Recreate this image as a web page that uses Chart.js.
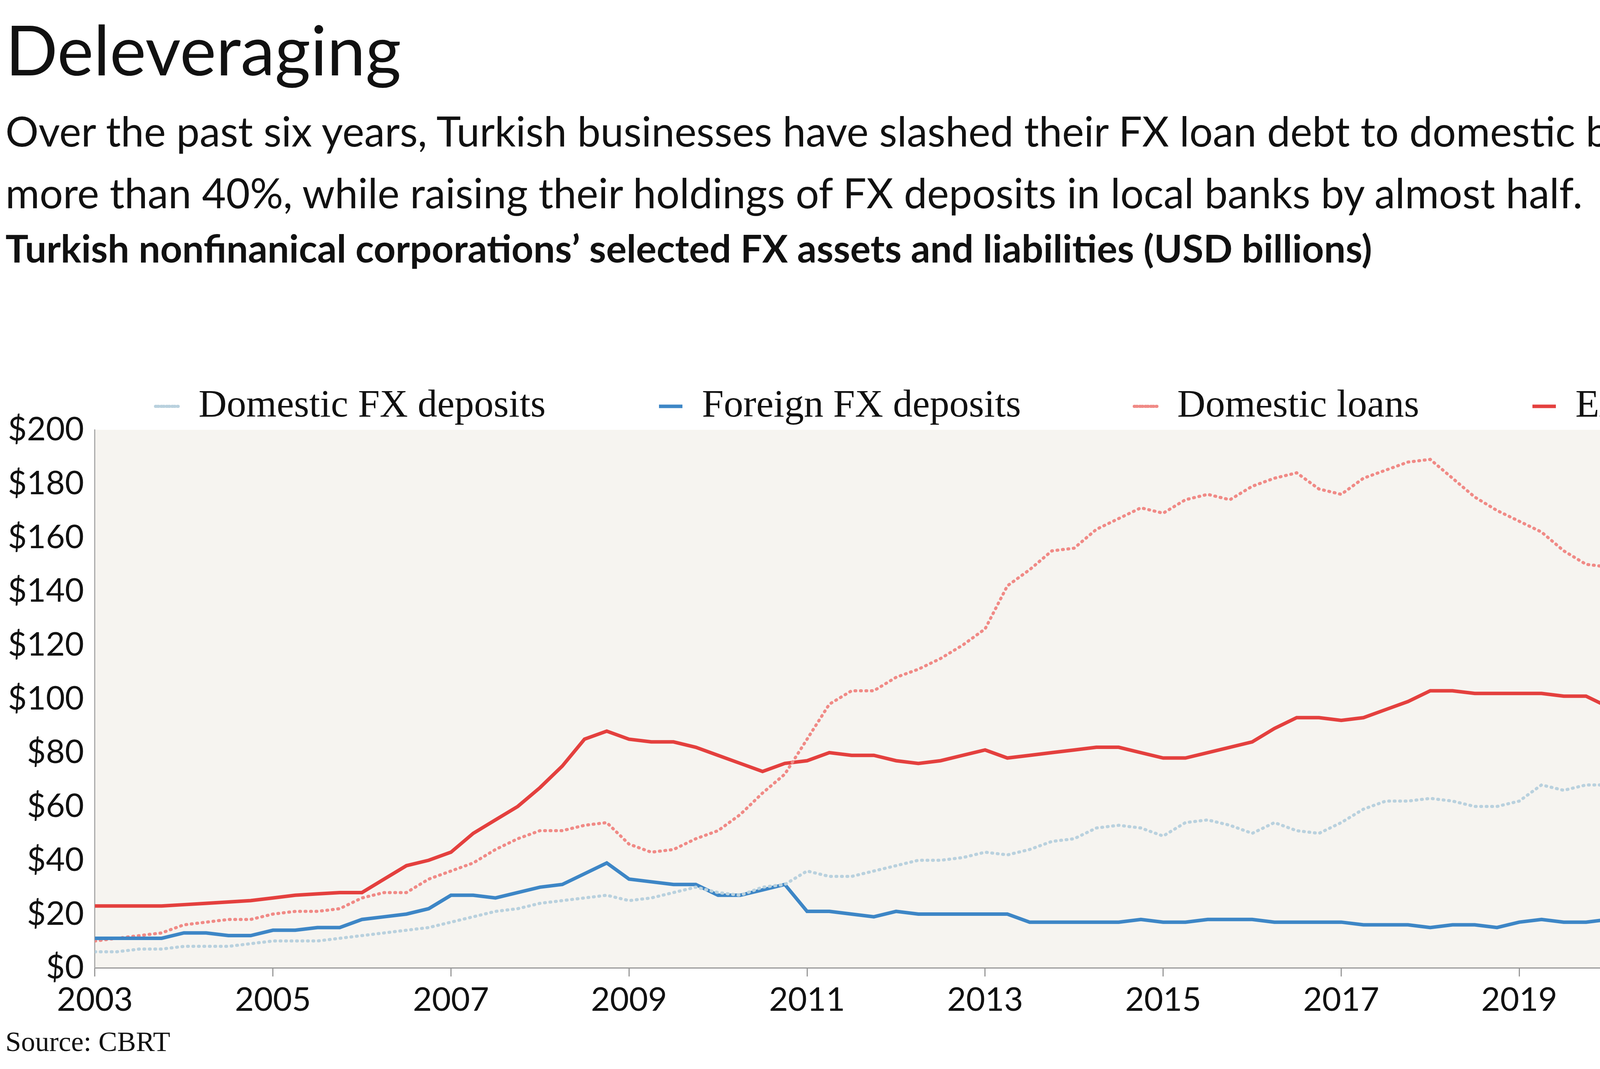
<!DOCTYPE html>
<html>
<head>
<meta charset="utf-8">
<script src="https://cdn.jsdelivr.net/npm/chart.js@4"></script>
<style>
  html, body { margin: 0; background: #fff; }
  body { width: 5006px; height: 2736px; position: relative; overflow: hidden; font-family: Lato, sans-serif; color: #111; }
  .t { position: absolute; left: 14px; white-space: nowrap; }
  #title { top: 30px; font-size: 176px; line-height: 190px; }
  #sub { top: 255px; font-size: 106px; line-height: 158px; }
  #head { top: 575px; font-size: 98px; font-weight: bold; }
  #source { top: 2625px; font-size: 72px; font-family: "Liberation Serif", serif; }
  #wrap { position: absolute; left: 0; top: 700px; width: 5006px; height: 1920px; }
  #chart { display: block; width: 5006px; height: 1920px; }
</style>
</head>
<body>
<div class="t" id="title">Deleveraging</div>
<div class="t" id="sub">Over the past six years, Turkish businesses have slashed their FX loan debt to domestic banks by<br>more than 40%, while raising their holdings of FX deposits in local banks by almost half.</div>
<div class="t" id="head">Turkish nonfinanical corporations’ selected FX assets and liabilities (USD billions)</div>
<div id="wrap"><canvas id="chart" width="5006" height="1920"></canvas></div>
<div class="t" id="source">Source: CBRT</div>
<script>
// quarterly readings, 2003 Q1 .. 2023 Q4
const startYear = 2003;
const domesticDeposits = [6,6,7,7, 8,8,8,9, 10,10,10,11, 12,13,14,15, 17,19,21,22, 24,25,26,27, 25,26,28,30, 28,27,30,31, 36,34,34,36, 38,40,40,41, 43,42,44,47, 48,52,53,52, 49,54,55,53, 50,54,51,50, 54,59,62,62, 63,62,60,60, 62,68,66,68, 68,72,77,78, 79,78,82,83, 82,89,94,97, 92,91,93,92];
const foreignDeposits = [11,11,11,11, 13,13,12,12, 14,14,15,15, 18,19,20,22, 27,27,26,28, 30,31,35,39, 33,32,31,31, 27,27,29,31, 21,21,20,19, 21,20,20,20, 20,20,17,17, 17,17,17,18, 17,17,18,18, 18,17,17,17, 17,16,16,16, 15,16,16,15, 17,18,17,17, 18,17,17,18, 18,17,18,17, 17,17,16,16, 17,16,16,16];
const domesticLoans = [10,11,12,13, 16,17,18,18, 20,21,21,22, 26,28,28,33, 36,39,44,48, 51,51,53,54, 46,43,44,48, 51,57,65,72, 85,98,103,103, 108,111,115,120, 126,142,148,155, 156,163,167,171, 169,174,176,174, 179,182,184,178, 176,182,185,188, 189,182,175,170, 166,162,155,150, 149,148,146,145, 147,145,144,138, 133,122,114,113, 112,110,108,111];
const externalLoans = [23,23,23,23, 23.5,24,24.5,25, 26,27,27.5,28, 28,33,38,40, 43,50,55,60, 67,75,85,88, 85,84,84,82, 79,76,73,76, 77,80,79,79, 77,76,77,79, 81,78,79,80, 81,82,82,80, 78,78,80,82, 84,89,93,93, 92,93,96,99, 103,103,102,102, 102,102,101,101, 97,96,97,98, 97,101,102,101, 101,99,100,102, 104,103,101,104];
const yTicks = [0,20,40,60,80,100,120,140,160,180,200];
const xTicks = [2003,2005,2007,2009,2011,2013,2015,2017,2019,2021,2023];

const pts = arr => arr.map((v, i) => ({ x: startYear + i / 4, y: v }));

const plotBg = {
  id: 'plotBg',
  beforeDraw(chart) {
    const { ctx, chartArea: a } = chart;
    ctx.save();
    ctx.fillStyle = '#f6f4f0';
    ctx.fillRect(a.left, a.top, a.right - a.left, a.bottom - a.top);
    ctx.restore();
  }
};

new Chart(document.getElementById('chart'), {
  type: 'line',
  data: {
    datasets: [
      { label: 'Domestic FX deposits', data: pts(domesticDeposits), borderColor: '#b9d1de', borderWidth: 8, borderDash: [2, 12], borderCapStyle: 'round' },
      { label: 'Foreign FX deposits', data: pts(foreignDeposits), borderColor: '#3d86c6', borderWidth: 9 },
      { label: 'Domestic loans', data: pts(domesticLoans), borderColor: '#f08a86', borderWidth: 8, borderDash: [2, 12], borderCapStyle: 'round' },
      { label: 'External loans', data: pts(externalLoans), borderColor: '#e4403e', borderWidth: 9 }
    ]
  },
  options: {
    responsive: false,
    animation: false,
    devicePixelRatio: 1,
    elements: { point: { radius: 0 }, line: { tension: 0 } },
    layout: { padding: { left: 0, right: 0, top: 0, bottom: 0 } },
    plugins: {
      legend: {
        labels: {
          font: { family: 'Liberation Serif', size: 100 },
          color: '#111',
          boxWidth: 60, boxHeight: 0,
          padding: 290
        }
      },
      tooltip: { enabled: false }
    },
    scales: {
      x: {
        type: 'linear', min: 2003, max: 2023.9,
        afterBuildTicks: s => { s.ticks = xTicks.map(v => ({ value: v })); },
        grid: { display: true, drawOnChartArea: false, tickLength: 22, color: '#999', lineWidth: 3 },
        border: { color: '#999', width: 3 },
        ticks: { font: { family: 'Lato', size: 84 }, color: '#111', padding: 10, maxRotation: 0, callback: v => String(v) }
      },
      y: {
        min: 0, max: 200,
        afterBuildTicks: s => { s.ticks = yTicks.map(v => ({ value: v })); },
        grid: { display: false },
        border: { color: '#aaa', width: 3 },
        ticks: { font: { family: 'Lato', size: 84 }, color: '#111', padding: 20, callback: v => '$' + v }
      }
    }
  },
  plugins: [plotBg]
});
</script>
</body>
</html>
